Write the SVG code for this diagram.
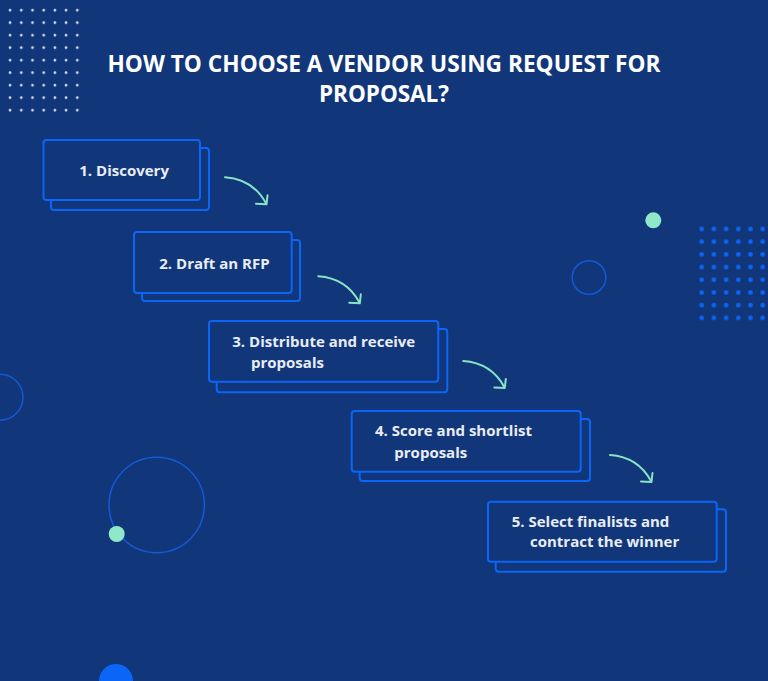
<svg xmlns="http://www.w3.org/2000/svg" xmlns:xlink="http://www.w3.org/1999/xlink" width="768" height="681" viewBox="0 0 768 681">
  <defs>
    <style>
      .bg { fill: #12367a; }
      .box { fill: #12367a; stroke: #0b65f7; stroke-width: 2; }
      .lbl { font-family: "Open Sans", "Noto Sans", "Liberation Sans", sans-serif; font-weight: 700; font-size: 15px; fill: #e8edf6; }
      .title { font-family: "Open Sans", "Noto Sans", "Liberation Sans", sans-serif; font-weight: 700; font-size: 22.5px; fill: #ffffff; text-anchor: middle; }
      .ring { fill: none; stroke: #1459d6; stroke-width: 1.5; }
      .mint { fill: #8fe8c9; }
      .arrow { fill: none; stroke: #86e3c4; stroke-width: 2; stroke-linecap: round; stroke-linejoin: round; }
      .wdot { fill: #dfe6f2; }
      .bdot { fill: #0b65f7; }
    </style>
    <pattern id="wgrid" x="4.5" y="4" width="11.2" height="12.5" patternUnits="userSpaceOnUse">
      <circle class="wdot" cx="5.6" cy="6.2" r="1.3"/>
    </pattern>
    <pattern id="bgrid" x="695.6" y="222.7" width="12.2" height="12.7" patternUnits="userSpaceOnUse">
      <circle class="bdot" cx="6.1" cy="6.3" r="2.3"/>
    </pattern>
    <path id="arr" d="M0,0 Q28,2 41,26 M31,26.5 L41.5,27 L42.5,18"/>
  </defs>

  <rect class="bg" x="0" y="0" width="768" height="681"/>

  <!-- decorations -->
  <g id="decor">
    <rect x="4" y="4" width="79" height="112" fill="url(#wgrid)"/>
    <rect x="695.6" y="222.7" width="73" height="101.6" fill="url(#bgrid)"/>
    <circle class="mint" cx="653.3" cy="220.3" r="8"/>
    <circle class="ring" cx="589" cy="277.5" r="16.8"/>
    <circle class="ring" cx="0" cy="397.3" r="23"/>
    <circle class="ring" cx="156.7" cy="505" r="47.7"/>
    <circle class="mint" cx="116.7" cy="534" r="8"/>
    <circle fill="#0b65f7" cx="116" cy="681" r="17"/>
  </g>

  <g id="title">
    <text class="title" x="384" y="72.3" textLength="553" lengthAdjust="spacingAndGlyphs">HOW TO CHOOSE A VENDOR USING REQUEST FOR</text>
    <text class="title" x="384" y="101.7" textLength="130" lengthAdjust="spacingAndGlyphs">PROPOSAL?</text>
  </g>

  <g id="connectors">
    <use xlink:href="#arr" class="arrow" x="225" y="177.3"/>
    <use xlink:href="#arr" class="arrow" x="318.3" y="276.3"/>
    <use xlink:href="#arr" class="arrow" x="463.3" y="361"/>
    <use xlink:href="#arr" class="arrow" x="610" y="455"/>
  </g>

  <g id="step1">
    <rect class="box" x="51" y="148" width="158" height="62" rx="3"/>
    <rect class="box" x="43.5" y="140" width="156.5" height="60" rx="3"/>
    <text class="lbl" x="79.3" y="175.7">1. Discovery</text>
  </g>

  <g id="step2">
    <rect class="box" x="142" y="240" width="158" height="61" rx="3"/>
    <rect class="box" x="134" y="232" width="157.7" height="61" rx="3"/>
    <text class="lbl" x="159.3" y="268.7">2. Draft an RFP</text>
  </g>

  <g id="step3">
    <rect class="box" x="216.7" y="329" width="230.6" height="63.3" rx="3"/>
    <rect class="box" x="209" y="321" width="229.3" height="60.7" rx="3"/>
    <text class="lbl" x="232.3" y="346.7">3. Distribute and receive</text>
    <text class="lbl" x="251" y="368.3">proposals</text>
  </g>

  <g id="step4">
    <rect class="box" x="359.7" y="419" width="230.3" height="62" rx="3"/>
    <rect class="box" x="351.7" y="411" width="229" height="60.7" rx="3"/>
    <text class="lbl" x="375" y="435.7">4. Score and shortlist</text>
    <text class="lbl" x="394.3" y="457.7">proposals</text>
  </g>

  <g id="step5">
    <rect class="box" x="495.7" y="509.3" width="230.3" height="62.4" rx="3"/>
    <rect class="box" x="488" y="501.7" width="228.7" height="60" rx="3"/>
    <text class="lbl" x="511.7" y="526.7">5. Select finalists and</text>
    <text class="lbl" x="530" y="547.3">contract the winner</text>
  </g>
</svg>
